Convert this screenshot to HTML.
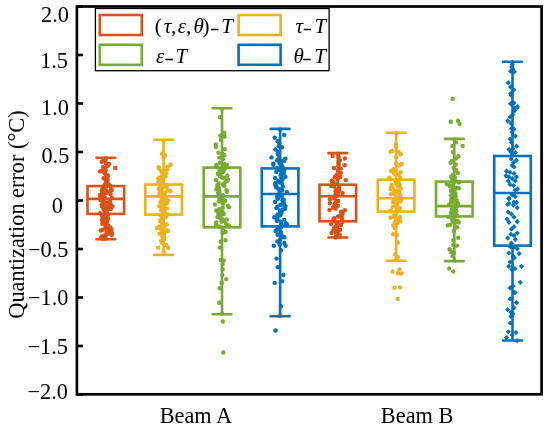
<!DOCTYPE html>
<html><head><meta charset="utf-8"><style>
html,body{margin:0;padding:0;background:#fff;}
svg{display:block;}
text{font-family:"Liberation Serif","Times New Roman",serif;}
</style></head><body>
<svg width="550" height="433" viewBox="0 0 550 433">
<rect width="550" height="433" fill="#fff"/>
<g stroke="#D95319" stroke-width="2.6" fill="none">
<path d="M105.8 157.7V186.1M105.8 213.9V239.2"/>
<path stroke-linecap="round" d="M96.4 157.7H115.2M96.4 239.2H115.2"/>
<rect x="87.5" y="186.1" width="36.6" height="27.8"/>
<path d="M87.5 198.9H124.1"/>
</g>
<g fill="#D95319">
<circle cx="105.0" cy="158.4" r="2.2"/>
<circle cx="105.5" cy="159.2" r="2.2"/>
<circle cx="103.6" cy="160.3" r="2.2"/>
<circle cx="101.7" cy="161.8" r="2.2"/>
<circle cx="105.7" cy="163.0" r="2.2"/>
<circle cx="109.0" cy="163.9" r="2.2"/>
<circle cx="107.9" cy="165.4" r="2.2"/>
<circle cx="106.8" cy="165.9" r="2.2"/>
<circle cx="103.0" cy="167.1" r="2.2"/>
<circle cx="104.8" cy="169.0" r="2.2"/>
<circle cx="105.6" cy="169.9" r="2.2"/>
<circle cx="102.2" cy="170.4" r="2.2"/>
<circle cx="104.7" cy="172.2" r="2.2"/>
<circle cx="104.7" cy="173.2" r="2.2"/>
<circle cx="105.7" cy="174.6" r="2.2"/>
<circle cx="108.1" cy="175.4" r="2.2"/>
<circle cx="107.4" cy="176.7" r="2.2"/>
<circle cx="106.9" cy="177.2" r="2.2"/>
<circle cx="103.6" cy="178.3" r="2.2"/>
<circle cx="107.7" cy="180.0" r="2.2"/>
<circle cx="106.0" cy="181.4" r="2.2"/>
<circle cx="106.2" cy="182.2" r="2.2"/>
<circle cx="108.2" cy="183.6" r="2.2"/>
<circle cx="104.8" cy="184.5" r="2.2"/>
<circle cx="110.2" cy="185.6" r="2.2"/>
<circle cx="106.4" cy="186.2" r="2.2"/>
<circle cx="103.4" cy="186.6" r="2.2"/>
<circle cx="104.8" cy="187.1" r="2.2"/>
<circle cx="103.5" cy="187.7" r="2.2"/>
<circle cx="102.8" cy="188.6" r="2.2"/>
<circle cx="110.8" cy="189.0" r="2.2"/>
<circle cx="103.9" cy="189.7" r="2.2"/>
<circle cx="111.8" cy="190.0" r="2.2"/>
<circle cx="101.9" cy="190.4" r="2.2"/>
<circle cx="106.5" cy="191.0" r="2.2"/>
<circle cx="102.0" cy="191.5" r="2.2"/>
<circle cx="109.6" cy="192.1" r="2.2"/>
<circle cx="106.9" cy="192.8" r="2.2"/>
<circle cx="105.7" cy="193.4" r="2.2"/>
<circle cx="110.6" cy="194.0" r="2.2"/>
<circle cx="102.6" cy="194.3" r="2.2"/>
<circle cx="100.0" cy="195.0" r="2.2"/>
<circle cx="102.6" cy="195.3" r="2.2"/>
<circle cx="100.1" cy="195.7" r="2.2"/>
<circle cx="101.8" cy="196.3" r="2.2"/>
<circle cx="104.4" cy="197.2" r="2.2"/>
<circle cx="104.0" cy="197.4" r="2.2"/>
<circle cx="111.8" cy="197.9" r="2.2"/>
<circle cx="103.0" cy="198.6" r="2.2"/>
<circle cx="103.3" cy="199.0" r="2.2"/>
<circle cx="100.4" cy="199.9" r="2.2"/>
<circle cx="103.8" cy="200.5" r="2.2"/>
<circle cx="102.9" cy="200.8" r="2.2"/>
<circle cx="109.9" cy="201.6" r="2.2"/>
<circle cx="102.8" cy="201.8" r="2.2"/>
<circle cx="108.2" cy="202.6" r="2.2"/>
<circle cx="106.2" cy="202.9" r="2.2"/>
<circle cx="110.5" cy="203.8" r="2.2"/>
<circle cx="105.8" cy="204.2" r="2.2"/>
<circle cx="101.8" cy="204.6" r="2.2"/>
<circle cx="102.8" cy="204.9" r="2.2"/>
<circle cx="108.8" cy="205.8" r="2.2"/>
<circle cx="112.5" cy="206.4" r="2.2"/>
<circle cx="102.2" cy="206.7" r="2.2"/>
<circle cx="104.8" cy="207.1" r="2.2"/>
<circle cx="108.2" cy="208.0" r="2.2"/>
<circle cx="105.2" cy="208.4" r="2.2"/>
<circle cx="110.8" cy="209.0" r="2.2"/>
<circle cx="103.6" cy="209.6" r="2.2"/>
<circle cx="106.9" cy="210.1" r="2.2"/>
<circle cx="104.6" cy="210.8" r="2.2"/>
<circle cx="105.3" cy="211.3" r="2.2"/>
<circle cx="106.4" cy="211.4" r="2.2"/>
<circle cx="105.8" cy="212.3" r="2.2"/>
<circle cx="106.1" cy="212.9" r="2.2"/>
<circle cx="100.1" cy="213.2" r="2.2"/>
<circle cx="107.2" cy="214.0" r="2.2"/>
<circle cx="107.9" cy="214.7" r="2.2"/>
<circle cx="101.9" cy="215.4" r="2.2"/>
<circle cx="104.5" cy="215.8" r="2.2"/>
<circle cx="102.5" cy="216.5" r="2.2"/>
<circle cx="104.4" cy="217.8" r="2.2"/>
<circle cx="108.1" cy="218.4" r="2.2"/>
<circle cx="106.0" cy="219.4" r="2.2"/>
<circle cx="101.9" cy="219.9" r="2.2"/>
<circle cx="104.3" cy="220.4" r="2.2"/>
<circle cx="107.2" cy="221.2" r="2.2"/>
<circle cx="104.6" cy="222.2" r="2.2"/>
<circle cx="105.0" cy="223.0" r="2.2"/>
<circle cx="102.3" cy="223.8" r="2.2"/>
<circle cx="106.2" cy="224.8" r="2.2"/>
<circle cx="108.3" cy="225.5" r="2.2"/>
<circle cx="105.9" cy="226.2" r="2.2"/>
<circle cx="105.6" cy="227.0" r="2.2"/>
<circle cx="110.4" cy="227.7" r="2.2"/>
<circle cx="107.2" cy="228.7" r="2.2"/>
<circle cx="111.4" cy="229.3" r="2.2"/>
<circle cx="102.6" cy="229.7" r="2.2"/>
<circle cx="100.8" cy="230.5" r="2.2"/>
<circle cx="110.6" cy="231.7" r="2.2"/>
<circle cx="108.5" cy="232.1" r="2.2"/>
<circle cx="111.9" cy="232.9" r="2.2"/>
<circle cx="108.3" cy="233.7" r="2.2"/>
<circle cx="111.7" cy="234.7" r="2.2"/>
<circle cx="105.4" cy="235.2" r="2.2"/>
<circle cx="102.3" cy="236.1" r="2.2"/>
<circle cx="102.7" cy="237.2" r="2.2"/>
<circle cx="101.1" cy="237.8" r="2.2"/>
<circle cx="102.7" cy="238.7" r="2.2"/>
<circle cx="115.2" cy="168.0" r="2.2"/>
<circle cx="100.0" cy="171.4" r="2.2"/>
<circle cx="105.8" cy="158.5" r="2.2"/>
<circle cx="105.8" cy="238.5" r="2.2"/>
</g>
<g stroke="#EDB120" stroke-width="2.6" fill="none">
<path d="M163.6 139.8V184.5M163.6 214.6V254.9"/>
<path stroke-linecap="round" d="M154.2 139.8H173.0M154.2 254.9H173.0"/>
<rect x="145.3" y="184.5" width="36.6" height="30.1"/>
<path d="M145.3 196.4H181.9"/>
</g>
<g fill="#EDB120">
<circle cx="163.6" cy="141.0" r="2.2"/>
<circle cx="162.0" cy="153.8" r="2.2"/>
<circle cx="165.0" cy="155.5" r="2.2"/>
<circle cx="163.5" cy="157.5" r="2.2"/>
<circle cx="170.5" cy="164.7" r="2.2"/>
<circle cx="167.3" cy="167.0" r="2.2"/>
<circle cx="158.6" cy="167.1" r="2.2"/>
<circle cx="159.1" cy="168.8" r="2.2"/>
<circle cx="167.2" cy="169.4" r="2.2"/>
<circle cx="163.2" cy="170.3" r="2.2"/>
<circle cx="161.5" cy="171.6" r="2.2"/>
<circle cx="163.4" cy="172.1" r="2.2"/>
<circle cx="166.2" cy="173.1" r="2.2"/>
<circle cx="162.4" cy="174.8" r="2.2"/>
<circle cx="164.7" cy="175.1" r="2.2"/>
<circle cx="165.6" cy="176.3" r="2.2"/>
<circle cx="160.7" cy="177.3" r="2.2"/>
<circle cx="158.3" cy="178.2" r="2.2"/>
<circle cx="159.8" cy="179.1" r="2.2"/>
<circle cx="163.0" cy="180.3" r="2.2"/>
<circle cx="159.9" cy="181.5" r="2.2"/>
<circle cx="158.3" cy="182.0" r="2.2"/>
<circle cx="161.2" cy="183.7" r="2.2"/>
<circle cx="164.3" cy="184.3" r="2.2"/>
<circle cx="163.5" cy="185.2" r="2.2"/>
<circle cx="163.3" cy="185.8" r="2.2"/>
<circle cx="166.2" cy="186.4" r="2.2"/>
<circle cx="166.4" cy="187.2" r="2.2"/>
<circle cx="159.9" cy="187.5" r="2.2"/>
<circle cx="162.7" cy="188.0" r="2.2"/>
<circle cx="158.8" cy="188.7" r="2.2"/>
<circle cx="167.7" cy="189.8" r="2.2"/>
<circle cx="160.8" cy="190.1" r="2.2"/>
<circle cx="161.3" cy="190.8" r="2.2"/>
<circle cx="170.4" cy="191.3" r="2.2"/>
<circle cx="165.4" cy="192.2" r="2.2"/>
<circle cx="159.6" cy="192.7" r="2.2"/>
<circle cx="163.8" cy="193.4" r="2.2"/>
<circle cx="160.6" cy="193.9" r="2.2"/>
<circle cx="160.5" cy="194.6" r="2.2"/>
<circle cx="159.4" cy="195.1" r="2.2"/>
<circle cx="164.8" cy="195.9" r="2.2"/>
<circle cx="166.6" cy="196.9" r="2.2"/>
<circle cx="162.0" cy="197.6" r="2.2"/>
<circle cx="163.1" cy="198.3" r="2.2"/>
<circle cx="163.2" cy="198.8" r="2.2"/>
<circle cx="166.5" cy="199.6" r="2.2"/>
<circle cx="161.7" cy="200.2" r="2.2"/>
<circle cx="168.4" cy="200.6" r="2.2"/>
<circle cx="167.3" cy="201.5" r="2.2"/>
<circle cx="163.5" cy="202.1" r="2.2"/>
<circle cx="160.5" cy="202.3" r="2.2"/>
<circle cx="166.7" cy="203.0" r="2.2"/>
<circle cx="166.1" cy="204.0" r="2.2"/>
<circle cx="162.6" cy="204.5" r="2.2"/>
<circle cx="164.3" cy="205.4" r="2.2"/>
<circle cx="162.6" cy="206.0" r="2.2"/>
<circle cx="159.4" cy="206.3" r="2.2"/>
<circle cx="163.6" cy="207.3" r="2.2"/>
<circle cx="163.1" cy="208.1" r="2.2"/>
<circle cx="167.1" cy="208.4" r="2.2"/>
<circle cx="162.1" cy="209.2" r="2.2"/>
<circle cx="164.0" cy="209.5" r="2.2"/>
<circle cx="161.1" cy="210.3" r="2.2"/>
<circle cx="163.6" cy="210.8" r="2.2"/>
<circle cx="163.8" cy="211.8" r="2.2"/>
<circle cx="163.5" cy="212.4" r="2.2"/>
<circle cx="164.6" cy="212.8" r="2.2"/>
<circle cx="163.7" cy="214.0" r="2.2"/>
<circle cx="167.6" cy="214.4" r="2.2"/>
<circle cx="160.4" cy="215.3" r="2.2"/>
<circle cx="162.1" cy="216.6" r="2.2"/>
<circle cx="165.9" cy="216.7" r="2.2"/>
<circle cx="165.0" cy="217.6" r="2.2"/>
<circle cx="162.9" cy="219.1" r="2.2"/>
<circle cx="160.6" cy="220.0" r="2.2"/>
<circle cx="162.9" cy="220.1" r="2.2"/>
<circle cx="160.4" cy="221.2" r="2.2"/>
<circle cx="162.4" cy="222.1" r="2.2"/>
<circle cx="163.0" cy="223.3" r="2.2"/>
<circle cx="166.6" cy="224.4" r="2.2"/>
<circle cx="162.0" cy="224.7" r="2.2"/>
<circle cx="163.0" cy="226.2" r="2.2"/>
<circle cx="159.6" cy="226.5" r="2.2"/>
<circle cx="163.9" cy="227.1" r="2.2"/>
<circle cx="160.6" cy="228.7" r="2.2"/>
<circle cx="160.9" cy="229.2" r="2.2"/>
<circle cx="167.1" cy="230.5" r="2.2"/>
<circle cx="167.9" cy="231.1" r="2.2"/>
<circle cx="162.0" cy="231.9" r="2.2"/>
<circle cx="164.4" cy="232.9" r="2.2"/>
<circle cx="159.6" cy="233.7" r="2.2"/>
<circle cx="157.0" cy="228.0" r="2.2"/>
<circle cx="162.2" cy="236.3" r="2.2"/>
<circle cx="164.2" cy="236.9" r="2.2"/>
<circle cx="163.6" cy="239.3" r="2.2"/>
<circle cx="163.8" cy="239.7" r="2.2"/>
<circle cx="161.1" cy="241.0" r="2.2"/>
<circle cx="162.7" cy="243.4" r="2.2"/>
<circle cx="166.1" cy="244.9" r="2.2"/>
<circle cx="158.2" cy="247.8" r="2.2"/>
<circle cx="168.3" cy="247.8" r="2.2"/>
<circle cx="163.6" cy="252.5" r="2.2"/>
</g>
<g stroke="#77AC30" stroke-width="2.6" fill="none">
<path d="M222.0 108.3V167.6M222.0 227.3V314.2"/>
<path stroke-linecap="round" d="M212.6 108.3H231.4M212.6 314.2H231.4"/>
<rect x="203.7" y="167.6" width="36.6" height="59.7"/>
<path d="M203.7 196.4H240.3"/>
</g>
<g fill="#77AC30">
<circle cx="222.0" cy="109.0" r="2.2"/>
<circle cx="220.0" cy="117.3" r="2.2"/>
<circle cx="224.2" cy="132.8" r="2.2"/>
<circle cx="220.3" cy="135.8" r="2.2"/>
<circle cx="224.5" cy="136.5" r="2.2"/>
<circle cx="220.8" cy="139.9" r="2.2"/>
<circle cx="215.8" cy="144.4" r="2.2"/>
<circle cx="215.8" cy="147.1" r="2.2"/>
<circle cx="224.5" cy="149.3" r="2.2"/>
<circle cx="218.5" cy="152.8" r="2.2"/>
<circle cx="222.3" cy="153.8" r="2.2"/>
<circle cx="224.2" cy="155.3" r="2.2"/>
<circle cx="219.3" cy="157.6" r="2.2"/>
<circle cx="223.0" cy="159.1" r="2.2"/>
<circle cx="220.0" cy="162.8" r="2.2"/>
<circle cx="224.5" cy="164.3" r="2.2"/>
<circle cx="216.3" cy="165.0" r="2.2"/>
<circle cx="226.8" cy="165.0" r="2.2"/>
<circle cx="216.2" cy="166.1" r="2.2"/>
<circle cx="216.6" cy="167.3" r="2.2"/>
<circle cx="225.3" cy="168.2" r="2.2"/>
<circle cx="220.4" cy="169.7" r="2.2"/>
<circle cx="219.5" cy="170.5" r="2.2"/>
<circle cx="223.7" cy="171.0" r="2.2"/>
<circle cx="222.8" cy="172.0" r="2.2"/>
<circle cx="217.8" cy="173.7" r="2.2"/>
<circle cx="220.6" cy="174.1" r="2.2"/>
<circle cx="227.4" cy="175.8" r="2.2"/>
<circle cx="219.7" cy="175.9" r="2.2"/>
<circle cx="222.2" cy="177.7" r="2.2"/>
<circle cx="224.2" cy="177.8" r="2.2"/>
<circle cx="228.2" cy="179.6" r="2.2"/>
<circle cx="216.0" cy="180.0" r="2.2"/>
<circle cx="226.6" cy="181.3" r="2.2"/>
<circle cx="224.9" cy="182.5" r="2.2"/>
<circle cx="218.6" cy="183.2" r="2.2"/>
<circle cx="222.9" cy="184.5" r="2.2"/>
<circle cx="217.3" cy="185.3" r="2.2"/>
<circle cx="224.3" cy="185.9" r="2.2"/>
<circle cx="218.6" cy="186.8" r="2.2"/>
<circle cx="218.7" cy="188.2" r="2.2"/>
<circle cx="216.4" cy="189.2" r="2.2"/>
<circle cx="226.4" cy="190.1" r="2.2"/>
<circle cx="219.5" cy="191.5" r="2.2"/>
<circle cx="226.9" cy="191.8" r="2.2"/>
<circle cx="218.0" cy="192.9" r="2.2"/>
<circle cx="219.2" cy="194.2" r="2.2"/>
<circle cx="222.9" cy="195.2" r="2.2"/>
<circle cx="219.9" cy="195.6" r="2.2"/>
<circle cx="221.7" cy="197.2" r="2.2"/>
<circle cx="219.5" cy="198.2" r="2.2"/>
<circle cx="222.8" cy="199.4" r="2.2"/>
<circle cx="221.6" cy="199.7" r="2.2"/>
<circle cx="225.2" cy="200.7" r="2.2"/>
<circle cx="219.0" cy="201.6" r="2.2"/>
<circle cx="222.5" cy="203.1" r="2.2"/>
<circle cx="223.2" cy="203.8" r="2.2"/>
<circle cx="214.9" cy="204.5" r="2.2"/>
<circle cx="227.8" cy="205.8" r="2.2"/>
<circle cx="229.0" cy="207.1" r="2.2"/>
<circle cx="222.7" cy="207.7" r="2.2"/>
<circle cx="219.4" cy="209.1" r="2.2"/>
<circle cx="219.5" cy="209.7" r="2.2"/>
<circle cx="216.2" cy="210.5" r="2.2"/>
<circle cx="222.4" cy="211.6" r="2.2"/>
<circle cx="218.4" cy="213.2" r="2.2"/>
<circle cx="223.7" cy="214.0" r="2.2"/>
<circle cx="220.6" cy="214.3" r="2.2"/>
<circle cx="218.3" cy="216.1" r="2.2"/>
<circle cx="217.4" cy="217.1" r="2.2"/>
<circle cx="220.3" cy="218.0" r="2.2"/>
<circle cx="221.6" cy="218.2" r="2.2"/>
<circle cx="226.8" cy="219.4" r="2.2"/>
<circle cx="223.5" cy="220.5" r="2.2"/>
<circle cx="221.6" cy="221.7" r="2.2"/>
<circle cx="216.2" cy="222.4" r="2.2"/>
<circle cx="226.0" cy="223.8" r="2.2"/>
<circle cx="216.0" cy="225.0" r="2.2"/>
<circle cx="228.8" cy="225.5" r="2.2"/>
<circle cx="219.3" cy="226.4" r="2.2"/>
<circle cx="222.6" cy="227.5" r="2.2"/>
<circle cx="223.7" cy="228.0" r="2.2"/>
<circle cx="225.6" cy="231.9" r="2.2"/>
<circle cx="222.7" cy="232.9" r="2.2"/>
<circle cx="220.7" cy="241.7" r="2.2"/>
<circle cx="225.6" cy="240.3" r="2.2"/>
<circle cx="219.7" cy="247.6" r="2.2"/>
<circle cx="220.7" cy="260.0" r="2.2"/>
<circle cx="223.7" cy="260.4" r="2.2"/>
<circle cx="222.7" cy="263.9" r="2.2"/>
<circle cx="222.7" cy="269.2" r="2.2"/>
<circle cx="222.3" cy="275.1" r="2.2"/>
<circle cx="226.2" cy="279.1" r="2.2"/>
<circle cx="221.7" cy="283.0" r="2.2"/>
<circle cx="219.7" cy="288.3" r="2.2"/>
<circle cx="219.2" cy="302.7" r="2.2"/>
<circle cx="222.0" cy="313.5" r="2.2"/>
<circle cx="222.8" cy="321.5" r="2.2"/>
<circle cx="223.2" cy="352.5" r="2.2"/>
</g>
<g stroke="#0072BD" stroke-width="2.6" fill="none">
<path d="M280.1 128.9V168.4M280.1 226.4V316.3"/>
<path stroke-linecap="round" d="M270.7 128.9H289.5M270.7 316.3H289.5"/>
<rect x="261.8" y="168.4" width="36.6" height="58.0"/>
<path d="M261.8 194.0H298.4"/>
</g>
<g fill="#0072BD">
<circle cx="280.1" cy="129.5" r="2.2"/>
<circle cx="284.2" cy="135.0" r="2.2"/>
<circle cx="274.7" cy="137.8" r="2.2"/>
<circle cx="277.7" cy="141.3" r="2.2"/>
<circle cx="279.3" cy="143.5" r="2.2"/>
<circle cx="282.0" cy="147.3" r="2.2"/>
<circle cx="278.8" cy="146.2" r="2.2"/>
<circle cx="275.5" cy="149.5" r="2.2"/>
<circle cx="278.2" cy="151.6" r="2.2"/>
<circle cx="277.7" cy="154.1" r="2.2"/>
<circle cx="271.5" cy="157.4" r="2.2"/>
<circle cx="279.3" cy="157.6" r="2.2"/>
<circle cx="285.3" cy="158.7" r="2.2"/>
<circle cx="277.1" cy="160.3" r="2.2"/>
<circle cx="281.5" cy="160.9" r="2.2"/>
<circle cx="273.3" cy="163.6" r="2.2"/>
<circle cx="284.2" cy="160.9" r="2.2"/>
<circle cx="279.5" cy="162.0" r="2.2"/>
<circle cx="281.1" cy="162.6" r="2.2"/>
<circle cx="279.6" cy="163.4" r="2.2"/>
<circle cx="273.3" cy="164.7" r="2.2"/>
<circle cx="282.3" cy="166.2" r="2.2"/>
<circle cx="281.9" cy="167.6" r="2.2"/>
<circle cx="277.0" cy="167.9" r="2.2"/>
<circle cx="277.6" cy="169.7" r="2.2"/>
<circle cx="282.5" cy="168.4" r="2.2"/>
<circle cx="284.2" cy="169.6" r="2.2"/>
<circle cx="281.3" cy="170.0" r="2.2"/>
<circle cx="281.1" cy="171.3" r="2.2"/>
<circle cx="276.3" cy="171.9" r="2.2"/>
<circle cx="283.8" cy="172.7" r="2.2"/>
<circle cx="283.3" cy="173.8" r="2.2"/>
<circle cx="280.6" cy="174.9" r="2.2"/>
<circle cx="281.0" cy="176.0" r="2.2"/>
<circle cx="285.4" cy="176.7" r="2.2"/>
<circle cx="275.1" cy="178.0" r="2.2"/>
<circle cx="281.5" cy="178.2" r="2.2"/>
<circle cx="282.6" cy="179.6" r="2.2"/>
<circle cx="278.0" cy="180.8" r="2.2"/>
<circle cx="280.6" cy="181.6" r="2.2"/>
<circle cx="279.0" cy="182.4" r="2.2"/>
<circle cx="275.2" cy="183.1" r="2.2"/>
<circle cx="282.2" cy="183.9" r="2.2"/>
<circle cx="275.1" cy="184.8" r="2.2"/>
<circle cx="276.3" cy="186.1" r="2.2"/>
<circle cx="282.9" cy="186.6" r="2.2"/>
<circle cx="276.3" cy="187.4" r="2.2"/>
<circle cx="278.2" cy="188.8" r="2.2"/>
<circle cx="281.1" cy="189.3" r="2.2"/>
<circle cx="282.3" cy="190.4" r="2.2"/>
<circle cx="279.7" cy="191.3" r="2.2"/>
<circle cx="286.9" cy="192.3" r="2.2"/>
<circle cx="279.7" cy="193.2" r="2.2"/>
<circle cx="279.5" cy="194.0" r="2.2"/>
<circle cx="282.0" cy="195.1" r="2.2"/>
<circle cx="277.3" cy="196.4" r="2.2"/>
<circle cx="281.7" cy="196.6" r="2.2"/>
<circle cx="278.0" cy="198.3" r="2.2"/>
<circle cx="277.5" cy="198.7" r="2.2"/>
<circle cx="283.7" cy="199.6" r="2.2"/>
<circle cx="282.5" cy="200.3" r="2.2"/>
<circle cx="275.0" cy="202.0" r="2.2"/>
<circle cx="283.8" cy="202.9" r="2.2"/>
<circle cx="282.7" cy="203.0" r="2.2"/>
<circle cx="283.7" cy="204.7" r="2.2"/>
<circle cx="280.3" cy="205.0" r="2.2"/>
<circle cx="285.5" cy="206.1" r="2.2"/>
<circle cx="277.3" cy="206.8" r="2.2"/>
<circle cx="276.4" cy="208.1" r="2.2"/>
<circle cx="285.1" cy="208.7" r="2.2"/>
<circle cx="282.7" cy="209.5" r="2.2"/>
<circle cx="279.9" cy="210.4" r="2.2"/>
<circle cx="281.6" cy="211.8" r="2.2"/>
<circle cx="280.3" cy="212.5" r="2.2"/>
<circle cx="281.1" cy="213.5" r="2.2"/>
<circle cx="277.5" cy="214.4" r="2.2"/>
<circle cx="280.2" cy="215.4" r="2.2"/>
<circle cx="277.4" cy="216.6" r="2.2"/>
<circle cx="274.3" cy="217.2" r="2.2"/>
<circle cx="276.6" cy="218.1" r="2.2"/>
<circle cx="277.7" cy="219.1" r="2.2"/>
<circle cx="284.2" cy="219.6" r="2.2"/>
<circle cx="276.8" cy="220.9" r="2.2"/>
<circle cx="280.9" cy="221.7" r="2.2"/>
<circle cx="285.9" cy="223.1" r="2.2"/>
<circle cx="281.6" cy="224.0" r="2.2"/>
<circle cx="287.0" cy="224.6" r="2.2"/>
<circle cx="285.8" cy="225.2" r="2.2"/>
<circle cx="280.7" cy="226.1" r="2.2"/>
<circle cx="281.2" cy="227.3" r="2.2"/>
<circle cx="277.6" cy="229.1" r="2.2"/>
<circle cx="276.4" cy="230.4" r="2.2"/>
<circle cx="275.6" cy="231.0" r="2.2"/>
<circle cx="280.7" cy="231.8" r="2.2"/>
<circle cx="280.4" cy="233.5" r="2.2"/>
<circle cx="277.6" cy="234.7" r="2.2"/>
<circle cx="281.6" cy="235.7" r="2.2"/>
<circle cx="283.2" cy="236.7" r="2.2"/>
<circle cx="284.3" cy="237.3" r="2.2"/>
<circle cx="280.4" cy="238.7" r="2.2"/>
<circle cx="279.6" cy="240.5" r="2.2"/>
<circle cx="277.4" cy="241.4" r="2.2"/>
<circle cx="279.1" cy="242.5" r="2.2"/>
<circle cx="284.3" cy="243.0" r="2.2"/>
<circle cx="279.8" cy="244.5" r="2.2"/>
<circle cx="273.8" cy="245.7" r="2.2"/>
<circle cx="285.6" cy="245.7" r="2.2"/>
<circle cx="281.0" cy="250.2" r="2.2"/>
<circle cx="276.5" cy="258.6" r="2.2"/>
<circle cx="277.7" cy="267.1" r="2.2"/>
<circle cx="283.3" cy="275.0" r="2.2"/>
<circle cx="282.2" cy="281.1" r="2.2"/>
<circle cx="274.7" cy="282.9" r="2.2"/>
<circle cx="281.0" cy="306.2" r="2.2"/>
<circle cx="280.1" cy="315.8" r="2.2"/>
<circle cx="275.5" cy="330.5" r="2.2"/>
</g>
<g stroke="#D95319" stroke-width="2.6" fill="none">
<path d="M337.8 153.1V184.7M337.8 221.3V237.5"/>
<path stroke-linecap="round" d="M328.4 153.1H347.2M328.4 237.5H347.2"/>
<rect x="319.5" y="184.7" width="36.6" height="36.6"/>
<path d="M319.5 196.2H356.1"/>
</g>
<g fill="#D95319">
<circle cx="337.8" cy="153.8" r="2.2"/>
<circle cx="332.5" cy="156.0" r="2.2"/>
<circle cx="338.6" cy="156.9" r="2.2"/>
<circle cx="345.0" cy="158.5" r="2.2"/>
<circle cx="339.7" cy="160.2" r="2.2"/>
<circle cx="338.6" cy="163.0" r="2.2"/>
<circle cx="344.7" cy="165.2" r="2.2"/>
<circle cx="338.6" cy="165.7" r="2.2"/>
<circle cx="334.0" cy="168.0" r="2.2"/>
<circle cx="340.8" cy="168.5" r="2.2"/>
<circle cx="338.0" cy="170.7" r="2.2"/>
<circle cx="340.8" cy="172.9" r="2.2"/>
<circle cx="336.4" cy="175.1" r="2.2"/>
<circle cx="334.7" cy="177.3" r="2.2"/>
<circle cx="340.3" cy="177.0" r="2.2"/>
<circle cx="331.7" cy="180.7" r="2.2"/>
<circle cx="345.8" cy="180.1" r="2.2"/>
<circle cx="337.5" cy="179.6" r="2.2"/>
<circle cx="333.6" cy="182.3" r="2.2"/>
<circle cx="332.4" cy="183.0" r="2.2"/>
<circle cx="337.6" cy="184.3" r="2.2"/>
<circle cx="333.6" cy="185.4" r="2.2"/>
<circle cx="331.3" cy="186.0" r="2.2"/>
<circle cx="334.3" cy="186.5" r="2.2"/>
<circle cx="339.2" cy="187.2" r="2.2"/>
<circle cx="338.7" cy="188.0" r="2.2"/>
<circle cx="339.2" cy="188.8" r="2.2"/>
<circle cx="336.2" cy="189.6" r="2.2"/>
<circle cx="339.3" cy="191.0" r="2.2"/>
<circle cx="335.6" cy="191.3" r="2.2"/>
<circle cx="338.0" cy="192.4" r="2.2"/>
<circle cx="342.6" cy="193.1" r="2.2"/>
<circle cx="337.6" cy="193.8" r="2.2"/>
<circle cx="335.5" cy="194.8" r="2.2"/>
<circle cx="336.6" cy="195.2" r="2.2"/>
<circle cx="334.8" cy="196.6" r="2.2"/>
<circle cx="335.0" cy="197.2" r="2.2"/>
<circle cx="334.2" cy="198.6" r="2.2"/>
<circle cx="329.9" cy="199.3" r="2.2"/>
<circle cx="337.5" cy="200.9" r="2.2"/>
<circle cx="338.1" cy="201.0" r="2.2"/>
<circle cx="335.5" cy="202.5" r="2.2"/>
<circle cx="329.9" cy="203.2" r="2.2"/>
<circle cx="334.8" cy="204.0" r="2.2"/>
<circle cx="337.9" cy="205.7" r="2.2"/>
<circle cx="334.2" cy="206.3" r="2.2"/>
<circle cx="332.9" cy="207.8" r="2.2"/>
<circle cx="335.5" cy="208.6" r="2.2"/>
<circle cx="329.5" cy="209.9" r="2.2"/>
<circle cx="344.8" cy="210.2" r="2.2"/>
<circle cx="341.4" cy="211.6" r="2.2"/>
<circle cx="341.0" cy="212.1" r="2.2"/>
<circle cx="342.5" cy="213.3" r="2.2"/>
<circle cx="342.1" cy="214.6" r="2.2"/>
<circle cx="342.0" cy="215.2" r="2.2"/>
<circle cx="339.2" cy="216.2" r="2.2"/>
<circle cx="337.9" cy="216.6" r="2.2"/>
<circle cx="334.3" cy="218.2" r="2.2"/>
<circle cx="341.9" cy="218.3" r="2.2"/>
<circle cx="333.6" cy="219.3" r="2.2"/>
<circle cx="342.3" cy="220.7" r="2.2"/>
<circle cx="334.9" cy="221.5" r="2.2"/>
<circle cx="342.3" cy="222.0" r="2.2"/>
<circle cx="337.0" cy="223.1" r="2.2"/>
<circle cx="337.9" cy="223.9" r="2.2"/>
<circle cx="331.1" cy="224.1" r="2.2"/>
<circle cx="340.8" cy="225.3" r="2.2"/>
<circle cx="336.9" cy="226.0" r="2.2"/>
<circle cx="336.4" cy="226.2" r="2.2"/>
<circle cx="335.6" cy="227.1" r="2.2"/>
<circle cx="334.1" cy="227.7" r="2.2"/>
<circle cx="335.2" cy="228.9" r="2.2"/>
<circle cx="340.2" cy="229.8" r="2.2"/>
<circle cx="333.3" cy="230.3" r="2.2"/>
<circle cx="338.4" cy="230.9" r="2.2"/>
<circle cx="335.7" cy="231.9" r="2.2"/>
<circle cx="336.8" cy="232.7" r="2.2"/>
<circle cx="331.5" cy="233.0" r="2.2"/>
<circle cx="337.4" cy="234.1" r="2.2"/>
<circle cx="339.7" cy="234.7" r="2.2"/>
<circle cx="336.3" cy="235.2" r="2.2"/>
<circle cx="339.0" cy="236.4" r="2.2"/>
<circle cx="336.9" cy="236.7" r="2.2"/>
<circle cx="335.6" cy="237.6" r="2.2"/>
</g>
<g stroke="#EDB120" stroke-width="2.6" fill="none">
<path d="M396.1 132.7V179.7M396.1 211.6V260.7"/>
<path stroke-linecap="round" d="M386.7 132.7H405.5M386.7 260.7H405.5"/>
<rect x="377.8" y="179.7" width="36.6" height="31.9"/>
<path d="M377.8 198.3H414.4"/>
</g>
<g fill="#EDB120">
<circle cx="396.1" cy="133.5" r="2.2"/>
<circle cx="395.9" cy="144.8" r="2.2"/>
<circle cx="396.2" cy="147.3" r="2.2"/>
<circle cx="390.6" cy="151.7" r="2.2"/>
<circle cx="392.5" cy="151.0" r="2.2"/>
<circle cx="398.7" cy="152.3" r="2.2"/>
<circle cx="400.5" cy="154.2" r="2.2"/>
<circle cx="396.2" cy="157.3" r="2.2"/>
<circle cx="396.2" cy="163.5" r="2.2"/>
<circle cx="401.8" cy="163.9" r="2.2"/>
<circle cx="399.3" cy="165.4" r="2.2"/>
<circle cx="393.7" cy="169.1" r="2.2"/>
<circle cx="391.2" cy="171.0" r="2.2"/>
<circle cx="396.2" cy="170.3" r="2.2"/>
<circle cx="400.5" cy="172.2" r="2.2"/>
<circle cx="393.7" cy="172.8" r="2.2"/>
<circle cx="395.6" cy="174.7" r="2.2"/>
<circle cx="398.7" cy="174.3" r="2.2"/>
<circle cx="389.3" cy="177.8" r="2.2"/>
<circle cx="399.9" cy="177.8" r="2.2"/>
<circle cx="400.2" cy="179.1" r="2.2"/>
<circle cx="395.9" cy="180.3" r="2.2"/>
<circle cx="398.5" cy="180.7" r="2.2"/>
<circle cx="395.3" cy="181.2" r="2.2"/>
<circle cx="397.4" cy="182.0" r="2.2"/>
<circle cx="398.3" cy="182.9" r="2.2"/>
<circle cx="395.9" cy="183.5" r="2.2"/>
<circle cx="399.4" cy="184.6" r="2.2"/>
<circle cx="391.5" cy="185.0" r="2.2"/>
<circle cx="399.5" cy="186.1" r="2.2"/>
<circle cx="397.8" cy="186.3" r="2.2"/>
<circle cx="392.4" cy="187.3" r="2.2"/>
<circle cx="391.1" cy="188.2" r="2.2"/>
<circle cx="400.7" cy="188.5" r="2.2"/>
<circle cx="390.9" cy="189.2" r="2.2"/>
<circle cx="393.3" cy="190.0" r="2.2"/>
<circle cx="397.4" cy="190.7" r="2.2"/>
<circle cx="396.6" cy="191.7" r="2.2"/>
<circle cx="399.2" cy="192.0" r="2.2"/>
<circle cx="397.5" cy="193.2" r="2.2"/>
<circle cx="393.8" cy="193.5" r="2.2"/>
<circle cx="391.0" cy="194.2" r="2.2"/>
<circle cx="400.2" cy="195.1" r="2.2"/>
<circle cx="396.8" cy="195.9" r="2.2"/>
<circle cx="396.1" cy="196.3" r="2.2"/>
<circle cx="398.9" cy="197.5" r="2.2"/>
<circle cx="397.5" cy="198.1" r="2.2"/>
<circle cx="401.2" cy="198.5" r="2.2"/>
<circle cx="400.8" cy="199.6" r="2.2"/>
<circle cx="396.8" cy="200.3" r="2.2"/>
<circle cx="393.6" cy="200.7" r="2.2"/>
<circle cx="400.3" cy="201.5" r="2.2"/>
<circle cx="393.2" cy="202.4" r="2.2"/>
<circle cx="396.3" cy="203.0" r="2.2"/>
<circle cx="397.0" cy="203.9" r="2.2"/>
<circle cx="397.4" cy="204.6" r="2.2"/>
<circle cx="396.1" cy="205.2" r="2.2"/>
<circle cx="395.5" cy="205.9" r="2.2"/>
<circle cx="392.7" cy="206.9" r="2.2"/>
<circle cx="398.2" cy="207.4" r="2.2"/>
<circle cx="400.0" cy="208.1" r="2.2"/>
<circle cx="399.1" cy="208.8" r="2.2"/>
<circle cx="396.7" cy="209.3" r="2.2"/>
<circle cx="396.9" cy="210.4" r="2.2"/>
<circle cx="390.2" cy="210.8" r="2.2"/>
<circle cx="391.1" cy="211.6" r="2.2"/>
<circle cx="396.3" cy="212.5" r="2.2"/>
<circle cx="395.8" cy="213.5" r="2.2"/>
<circle cx="394.2" cy="215.6" r="2.2"/>
<circle cx="393.3" cy="216.6" r="2.2"/>
<circle cx="400.0" cy="217.0" r="2.2"/>
<circle cx="396.2" cy="218.8" r="2.2"/>
<circle cx="398.2" cy="219.6" r="2.2"/>
<circle cx="400.4" cy="221.3" r="2.2"/>
<circle cx="394.9" cy="222.3" r="2.2"/>
<circle cx="397.3" cy="223.1" r="2.2"/>
<circle cx="393.5" cy="225.2" r="2.2"/>
<circle cx="393.3" cy="225.7" r="2.2"/>
<circle cx="396.0" cy="226.6" r="2.2"/>
<circle cx="394.5" cy="228.1" r="2.2"/>
<circle cx="390.4" cy="217.8" r="2.2"/>
<circle cx="393.2" cy="234.2" r="2.2"/>
<circle cx="396.7" cy="234.9" r="2.2"/>
<circle cx="398.0" cy="242.5" r="2.2"/>
<circle cx="395.3" cy="254.3" r="2.2"/>
<circle cx="398.0" cy="257.1" r="2.2"/>
<circle cx="396.0" cy="260.0" r="2.2"/>
<circle cx="392.5" cy="271.5" r="2.2"/>
<circle cx="399.4" cy="269.4" r="2.2"/>
<circle cx="398.0" cy="273.3" r="2.2"/>
<circle cx="401.5" cy="273.5" r="2.2"/>
<circle cx="394.5" cy="287.7" r="2.2"/>
<circle cx="400.0" cy="287.4" r="2.2"/>
<circle cx="397.7" cy="298.9" r="2.2"/>
</g>
<g stroke="#77AC30" stroke-width="2.6" fill="none">
<path d="M454.3 138.9V181.6M454.3 216.4V261.1"/>
<path stroke-linecap="round" d="M444.9 138.9H463.7M444.9 261.1H463.7"/>
<rect x="436.0" y="181.6" width="36.6" height="34.8"/>
<path d="M436.0 206.1H472.6"/>
</g>
<g fill="#77AC30">
<circle cx="454.3" cy="139.5" r="2.2"/>
<circle cx="456.0" cy="142.4" r="2.2"/>
<circle cx="452.4" cy="146.0" r="2.2"/>
<circle cx="462.6" cy="146.0" r="2.2"/>
<circle cx="453.0" cy="152.0" r="2.2"/>
<circle cx="458.4" cy="156.2" r="2.2"/>
<circle cx="456.0" cy="158.6" r="2.2"/>
<circle cx="451.8" cy="161.0" r="2.2"/>
<circle cx="450.6" cy="162.8" r="2.2"/>
<circle cx="456.0" cy="164.6" r="2.2"/>
<circle cx="453.6" cy="167.7" r="2.2"/>
<circle cx="456.0" cy="170.0" r="2.2"/>
<circle cx="457.8" cy="173.0" r="2.2"/>
<circle cx="453.0" cy="174.9" r="2.2"/>
<circle cx="451.2" cy="176.7" r="2.2"/>
<circle cx="454.8" cy="177.3" r="2.2"/>
<circle cx="452.4" cy="179.1" r="2.2"/>
<circle cx="455.9" cy="181.3" r="2.2"/>
<circle cx="459.4" cy="181.9" r="2.2"/>
<circle cx="459.0" cy="182.4" r="2.2"/>
<circle cx="453.5" cy="183.5" r="2.2"/>
<circle cx="446.8" cy="184.1" r="2.2"/>
<circle cx="453.1" cy="185.0" r="2.2"/>
<circle cx="449.3" cy="185.1" r="2.2"/>
<circle cx="450.1" cy="186.2" r="2.2"/>
<circle cx="453.5" cy="187.0" r="2.2"/>
<circle cx="456.6" cy="187.7" r="2.2"/>
<circle cx="458.7" cy="188.2" r="2.2"/>
<circle cx="453.0" cy="189.0" r="2.2"/>
<circle cx="455.0" cy="189.4" r="2.2"/>
<circle cx="452.5" cy="190.3" r="2.2"/>
<circle cx="451.1" cy="190.6" r="2.2"/>
<circle cx="451.0" cy="191.1" r="2.2"/>
<circle cx="454.0" cy="192.1" r="2.2"/>
<circle cx="452.7" cy="193.0" r="2.2"/>
<circle cx="455.4" cy="193.4" r="2.2"/>
<circle cx="452.3" cy="194.4" r="2.2"/>
<circle cx="451.7" cy="195.1" r="2.2"/>
<circle cx="451.1" cy="195.6" r="2.2"/>
<circle cx="455.6" cy="196.3" r="2.2"/>
<circle cx="453.7" cy="197.1" r="2.2"/>
<circle cx="452.0" cy="197.8" r="2.2"/>
<circle cx="455.2" cy="198.2" r="2.2"/>
<circle cx="453.8" cy="198.7" r="2.2"/>
<circle cx="451.2" cy="199.7" r="2.2"/>
<circle cx="456.5" cy="200.1" r="2.2"/>
<circle cx="455.4" cy="200.7" r="2.2"/>
<circle cx="452.2" cy="201.5" r="2.2"/>
<circle cx="457.0" cy="202.5" r="2.2"/>
<circle cx="451.0" cy="202.8" r="2.2"/>
<circle cx="456.8" cy="203.6" r="2.2"/>
<circle cx="458.1" cy="203.9" r="2.2"/>
<circle cx="449.1" cy="204.9" r="2.2"/>
<circle cx="454.6" cy="205.2" r="2.2"/>
<circle cx="457.0" cy="206.3" r="2.2"/>
<circle cx="455.4" cy="207.2" r="2.2"/>
<circle cx="455.9" cy="207.7" r="2.2"/>
<circle cx="452.9" cy="208.4" r="2.2"/>
<circle cx="452.8" cy="208.9" r="2.2"/>
<circle cx="452.4" cy="209.4" r="2.2"/>
<circle cx="453.9" cy="210.6" r="2.2"/>
<circle cx="456.3" cy="211.2" r="2.2"/>
<circle cx="451.8" cy="211.5" r="2.2"/>
<circle cx="454.3" cy="212.2" r="2.2"/>
<circle cx="451.0" cy="213.3" r="2.2"/>
<circle cx="453.2" cy="213.3" r="2.2"/>
<circle cx="456.4" cy="214.4" r="2.2"/>
<circle cx="453.6" cy="214.7" r="2.2"/>
<circle cx="457.0" cy="216.0" r="2.2"/>
<circle cx="452.3" cy="216.3" r="2.2"/>
<circle cx="448.3" cy="216.9" r="2.2"/>
<circle cx="452.7" cy="217.6" r="2.2"/>
<circle cx="453.7" cy="219.1" r="2.2"/>
<circle cx="452.2" cy="219.2" r="2.2"/>
<circle cx="453.5" cy="220.1" r="2.2"/>
<circle cx="457.4" cy="220.7" r="2.2"/>
<circle cx="452.7" cy="222.1" r="2.2"/>
<circle cx="455.2" cy="222.7" r="2.2"/>
<circle cx="447.8" cy="225.4" r="2.2"/>
<circle cx="450.2" cy="224.8" r="2.2"/>
<circle cx="458.8" cy="222.4" r="2.2"/>
<circle cx="457.0" cy="227.3" r="2.2"/>
<circle cx="453.9" cy="231.0" r="2.2"/>
<circle cx="458.2" cy="237.7" r="2.2"/>
<circle cx="453.3" cy="240.1" r="2.2"/>
<circle cx="453.3" cy="245.0" r="2.2"/>
<circle cx="457.0" cy="245.6" r="2.2"/>
<circle cx="449.6" cy="249.3" r="2.2"/>
<circle cx="451.4" cy="252.3" r="2.2"/>
<circle cx="453.9" cy="253.0" r="2.2"/>
<circle cx="452.7" cy="256.0" r="2.2"/>
<circle cx="454.3" cy="260.5" r="2.2"/>
<circle cx="452.7" cy="98.8" r="2.2"/>
<circle cx="450.8" cy="121.8" r="2.2"/>
<circle cx="458.0" cy="120.7" r="2.2"/>
<circle cx="459.6" cy="123.9" r="2.2"/>
<circle cx="449.2" cy="268.5" r="2.2"/>
<circle cx="453.2" cy="271.5" r="2.2"/>
</g>
<g stroke="#0072BD" stroke-width="2.6" fill="none">
<path d="M512.5 61.8V156.0M512.5 245.6V340.5"/>
<path stroke-linecap="round" d="M503.1 61.8H521.9M503.1 340.5H521.9"/>
<rect x="494.2" y="156.0" width="36.6" height="89.6"/>
<path d="M494.2 193.0H530.8"/>
</g>
<g fill="#0072BD">
<path d="M512.4 59.9L515.0 62.5L512.4 65.1L509.8 62.5Z"/>
<path d="M512.4 62.0L515.0 64.6L512.4 67.2L509.8 64.6Z"/>
<path d="M511.8 64.4L514.4 67.0L511.8 69.6L509.2 67.0Z"/>
<path d="M513.0 66.8L515.6 69.4L513.0 72.0L510.4 69.4Z"/>
<path d="M510.6 68.6L513.2 71.2L510.6 73.8L508.0 71.2Z"/>
<path d="M514.3 69.2L516.9 71.8L514.3 74.4L511.7 71.8Z"/>
<path d="M508.2 80.1L510.8 82.7L508.2 85.3L505.6 82.7Z"/>
<path d="M510.6 84.3L513.2 86.9L510.6 89.5L508.0 86.9Z"/>
<path d="M513.7 87.3L516.3 89.9L513.7 92.5L511.1 89.9Z"/>
<path d="M510.6 90.9L513.2 93.5L510.6 96.1L508.0 93.5Z"/>
<path d="M511.2 92.7L513.8 95.3L511.2 97.9L508.6 95.3Z"/>
<path d="M510.6 101.1L513.2 103.7L510.6 106.3L508.0 103.7Z"/>
<path d="M514.0 100.5L516.6 103.1L514.0 105.7L511.4 103.1Z"/>
<path d="M517.3 104.1L519.9 106.7L517.3 109.3L514.7 106.7Z"/>
<path d="M514.9 105.4L517.5 108.0L514.9 110.6L512.3 108.0Z"/>
<path d="M517.2 104.9L519.8 107.5L517.2 110.1L514.6 107.5Z"/>
<path d="M514.7 108.1L517.3 110.7L514.7 113.3L512.1 110.7Z"/>
<path d="M512.8 111.9L515.4 114.5L512.8 117.1L510.2 114.5Z"/>
<path d="M510.2 114.4L512.8 117.0L510.2 119.6L507.6 117.0Z"/>
<path d="M507.7 118.3L510.3 120.9L507.7 123.5L505.1 120.9Z"/>
<path d="M510.9 120.8L513.5 123.4L510.9 126.0L508.3 123.4Z"/>
<path d="M511.5 125.9L514.1 128.5L511.5 131.1L508.9 128.5Z"/>
<path d="M514.0 126.5L516.6 129.1L514.0 131.7L511.4 129.1Z"/>
<path d="M512.1 129.7L514.7 132.3L512.1 134.9L509.5 132.3Z"/>
<path d="M515.3 133.5L517.9 136.1L515.3 138.7L512.7 136.1Z"/>
<path d="M510.2 136.6L512.8 139.2L510.2 141.8L507.6 139.2Z"/>
<path d="M511.5 139.8L514.1 142.4L511.5 145.0L508.9 142.4Z"/>
<path d="M516.6 143.6L519.2 146.2L516.6 148.8L514.0 146.2Z"/>
<path d="M509.0 146.8L511.6 149.4L509.0 152.0L506.4 149.4Z"/>
<path d="M512.8 146.1L515.4 148.7L512.8 151.3L510.2 148.7Z"/>
<path d="M510.9 149.3L513.5 151.9L510.9 154.5L508.3 151.9Z"/>
<path d="M515.3 150.0L517.9 152.6L515.3 155.2L512.7 152.6Z"/>
<path d="M511.5 153.1L514.1 155.7L511.5 158.3L508.9 155.7Z"/>
<path d="M511.2 156.4L513.8 159.0L511.2 161.6L508.6 159.0Z"/>
<path d="M516.4 157.6L519.0 160.2L516.4 162.8L513.8 160.2Z"/>
<path d="M513.5 159.9L516.1 162.5L513.5 165.1L510.9 162.5Z"/>
<path d="M512.3 162.8L514.9 165.4L512.3 168.0L509.7 165.4Z"/>
<path d="M514.0 164.5L516.6 167.1L514.0 169.7L511.4 167.1Z"/>
<path d="M506.5 168.6L509.1 171.2L506.5 173.8L503.9 171.2Z"/>
<path d="M510.0 169.7L512.6 172.3L510.0 174.9L507.4 172.3Z"/>
<path d="M514.0 170.9L516.6 173.5L514.0 176.1L511.4 173.5Z"/>
<path d="M506.0 173.2L508.6 175.8L506.0 178.4L503.4 175.8Z"/>
<path d="M508.9 174.3L511.5 176.9L508.9 179.5L506.3 176.9Z"/>
<path d="M516.4 174.3L519.0 176.9L516.4 179.5L513.8 176.9Z"/>
<path d="M512.3 176.1L514.9 178.7L512.3 181.3L509.7 178.7Z"/>
<path d="M508.3 178.4L510.9 181.0L508.3 183.6L505.7 181.0Z"/>
<path d="M515.2 178.4L517.8 181.0L515.2 183.6L512.6 181.0Z"/>
<path d="M510.0 181.8L512.6 184.4L510.0 187.0L507.4 184.4Z"/>
<path d="M513.5 183.0L516.1 185.6L513.5 188.2L510.9 185.6Z"/>
<path d="M517.5 186.5L520.1 189.1L517.5 191.7L514.9 189.1Z"/>
<path d="M515.2 187.6L517.8 190.2L515.2 192.8L512.6 190.2Z"/>
<path d="M512.3 192.2L514.9 194.8L512.3 197.4L509.7 194.8Z"/>
<path d="M515.2 194.0L517.8 196.6L515.2 199.2L512.6 196.6Z"/>
<path d="M508.9 195.7L511.5 198.3L508.9 200.9L506.3 198.3Z"/>
<path d="M516.4 199.7L519.0 202.3L516.4 204.9L513.8 202.3Z"/>
<path d="M508.9 200.9L511.5 203.5L508.9 206.1L506.3 203.5Z"/>
<path d="M509.0 196.2L511.6 198.8L509.0 201.4L506.4 198.8Z"/>
<path d="M514.0 199.4L516.6 202.0L514.0 204.6L511.4 202.0Z"/>
<path d="M507.7 201.9L510.3 204.5L507.7 207.1L505.1 204.5Z"/>
<path d="M513.4 202.5L516.0 205.1L513.4 207.7L510.8 205.1Z"/>
<path d="M517.2 205.1L519.8 207.7L517.2 210.3L514.6 207.7Z"/>
<path d="M508.3 209.5L510.9 212.1L508.3 214.7L505.7 212.1Z"/>
<path d="M511.5 211.4L514.1 214.0L511.5 216.6L508.9 214.0Z"/>
<path d="M514.0 214.6L516.6 217.2L514.0 219.8L511.4 217.2Z"/>
<path d="M507.0 216.5L509.6 219.1L507.0 221.7L504.4 219.1Z"/>
<path d="M509.0 219.7L511.6 222.3L509.0 224.9L506.4 222.3Z"/>
<path d="M517.2 219.0L519.8 221.6L517.2 224.2L514.6 221.6Z"/>
<path d="M514.0 224.1L516.6 226.7L514.0 229.3L511.4 226.7Z"/>
<path d="M511.5 226.6L514.1 229.2L511.5 231.8L508.9 229.2Z"/>
<path d="M517.2 230.4L519.8 233.0L517.2 235.6L514.6 233.0Z"/>
<path d="M510.9 231.7L513.5 234.3L510.9 236.9L508.3 234.3Z"/>
<path d="M514.0 233.0L516.6 235.6L514.0 238.2L511.4 235.6Z"/>
<path d="M507.7 235.5L510.3 238.1L507.7 240.7L505.1 238.1Z"/>
<path d="M515.3 236.8L517.9 239.4L515.3 242.0L512.7 239.4Z"/>
<path d="M511.5 240.6L514.1 243.2L511.5 245.8L508.9 243.2Z"/>
<path d="M514.0 244.4L516.6 247.0L514.0 249.6L511.4 247.0Z"/>
<path d="M510.6 244.4L513.2 247.0L510.6 249.6L508.0 247.0Z"/>
<path d="M517.3 246.2L519.9 248.8L517.3 251.4L514.7 248.8Z"/>
<path d="M508.8 250.4L511.4 253.0L508.8 255.6L506.2 253.0Z"/>
<path d="M519.1 251.0L521.7 253.6L519.1 256.2L516.5 253.6Z"/>
<path d="M513.0 253.4L515.6 256.0L513.0 258.6L510.4 256.0Z"/>
<path d="M514.3 255.2L516.9 257.8L514.3 260.4L511.7 257.8Z"/>
<path d="M510.0 259.4L512.6 262.0L510.0 264.6L507.4 262.0Z"/>
<path d="M508.8 263.7L511.4 266.3L508.8 268.9L506.2 266.3Z"/>
<path d="M514.9 266.1L517.5 268.7L514.9 271.3L512.3 268.7Z"/>
<path d="M521.5 263.7L524.1 266.3L521.5 268.9L518.9 266.3Z"/>
<path d="M511.8 266.7L514.4 269.3L511.8 271.9L509.2 269.3Z"/>
<path d="M520.3 279.7L522.9 282.3L520.3 284.9L517.7 282.3Z"/>
<path d="M513.0 283.5L515.6 286.1L513.0 288.7L510.4 286.1Z"/>
<path d="M510.0 285.3L512.6 287.9L510.0 290.5L507.4 287.9Z"/>
<path d="M514.9 290.1L517.5 292.7L514.9 295.3L512.3 292.7Z"/>
<path d="M514.7 289.9L517.3 292.5L514.7 295.1L512.1 292.5Z"/>
<path d="M510.2 296.3L512.8 298.9L510.2 301.5L507.6 298.9Z"/>
<path d="M516.6 300.1L519.2 302.7L516.6 305.3L514.0 302.7Z"/>
<path d="M514.0 305.2L516.6 307.8L514.0 310.4L511.4 307.8Z"/>
<path d="M507.7 307.1L510.3 309.7L507.7 312.3L505.1 309.7Z"/>
<path d="M510.9 309.6L513.5 312.2L510.9 314.8L508.3 312.2Z"/>
<path d="M512.8 311.5L515.4 314.1L512.8 316.7L510.2 314.1Z"/>
<path d="M510.9 314.0L513.5 316.6L510.9 319.2L508.3 316.6Z"/>
<path d="M510.2 320.4L512.8 323.0L510.2 325.6L507.6 323.0Z"/>
<path d="M508.3 329.2L510.9 331.8L508.3 334.4L505.7 331.8Z"/>
<path d="M515.9 329.9L518.5 332.5L515.9 335.1L513.3 332.5Z"/>
<path d="M512.1 332.4L514.7 335.0L512.1 337.6L509.5 335.0Z"/>
<path d="M506.4 335.0L509.0 337.6L506.4 340.2L503.8 337.6Z"/>
<path d="M517.2 338.1L519.8 340.7L517.2 343.3L514.6 340.7Z"/>
</g>
<rect x="76.9" y="6.5" width="464.7" height="387.8" fill="none" stroke="#000" stroke-width="2.7"/>
<path d="M77 6.5H83" stroke="#000" stroke-width="2.6"/>
<path d="M77 55.0H83" stroke="#000" stroke-width="2.6"/>
<path d="M77 103.5H83" stroke="#000" stroke-width="2.6"/>
<path d="M77 152.0H83" stroke="#000" stroke-width="2.6"/>
<path d="M77 200.5H83" stroke="#000" stroke-width="2.6"/>
<path d="M77 249.0H83" stroke="#000" stroke-width="2.6"/>
<path d="M77 297.5H83" stroke="#000" stroke-width="2.6"/>
<path d="M77 346.0H83" stroke="#000" stroke-width="2.6"/>
<path d="M77 394.5H83" stroke="#000" stroke-width="2.6"/>
<text x="68.9" y="21.6" font-size="22.3" text-anchor="end">2.0</text>
<text x="68.0" y="68.0" font-size="22.3" text-anchor="end">1.5</text>
<text x="68.9" y="114.5" font-size="22.3" text-anchor="end">1.0</text>
<text x="69.3" y="163.0" font-size="22.3" text-anchor="end">0.5</text>
<text x="63.0" y="212.5" font-size="22.3" text-anchor="end">0</text>
<text x="68.4" y="256.6" font-size="22.3" text-anchor="end">−0.5</text>
<text x="68.4" y="304.5" font-size="22.3" text-anchor="end">−1.0</text>
<text x="68.0" y="354.2" font-size="22.3" text-anchor="end">−1.5</text>
<text x="68.0" y="399.2" font-size="22.3" text-anchor="end">−2.0</text>
<text x="195.9" y="422.6" font-size="22.3" text-anchor="middle">Beam A</text>
<text x="417.1" y="423.4" font-size="22.3" text-anchor="middle">Beam B</text>
<text transform="translate(23.5 214.5) rotate(-90)" font-size="22.3" text-anchor="middle">Quantization error (°C)</text>
<rect x="95.4" y="8.5" width="233.7" height="62.2" fill="#fff" stroke="#000" stroke-width="1.3"/>
<rect x="99.8" y="15" width="42" height="20" fill="none" stroke="#D95319" stroke-width="2.6"/>
<rect x="238.6" y="15" width="42" height="20" fill="none" stroke="#EDB120" stroke-width="2.6"/>
<rect x="99.8" y="44.8" width="42" height="20" fill="none" stroke="#77AC30" stroke-width="2.6"/>
<rect x="238.6" y="44.8" width="42" height="20" fill="none" stroke="#0072BD" stroke-width="2.6"/>
<text font-size="21"><tspan x="154.8" y="33.0">(</tspan><tspan x="163.7" y="33.0" font-style="italic">τ</tspan><tspan x="171.1" y="33.0">,</tspan><tspan x="177.8" y="33.0" font-style="italic">ε</tspan><tspan x="186.0" y="33.0">,</tspan><tspan x="193.4" y="33.0" font-style="italic">θ</tspan><tspan x="202.4" y="33.0">)</tspan><tspan x="211.2" y="32.3" font-size="13.5" font-weight="bold" stroke="#000" stroke-width="0.45">–</tspan><tspan x="221.3" y="33.0" font-style="italic">T</tspan></text>
<text font-size="21"><tspan x="156.0" y="63.3" font-style="italic">ε</tspan><tspan x="165.7" y="62.0" font-size="13.5" font-weight="bold" stroke="#000" stroke-width="0.45">–</tspan><tspan x="175.4" y="63.3" font-style="italic">T</tspan></text>
<text font-size="21"><tspan x="295.4" y="33.2" font-style="italic">τ</tspan><tspan x="304.0" y="31.9" font-size="13.5" font-weight="bold" stroke="#000" stroke-width="0.45">–</tspan><tspan x="314.5" y="33.2" font-style="italic">T</tspan></text>
<text font-size="21"><tspan x="293.4" y="63.3" font-style="italic">θ</tspan><tspan x="303.6" y="62.3" font-size="13.5" font-weight="bold" stroke="#000" stroke-width="0.45">–</tspan><tspan x="314.3" y="63.3" font-style="italic">T</tspan></text>
</svg>
</body></html>
